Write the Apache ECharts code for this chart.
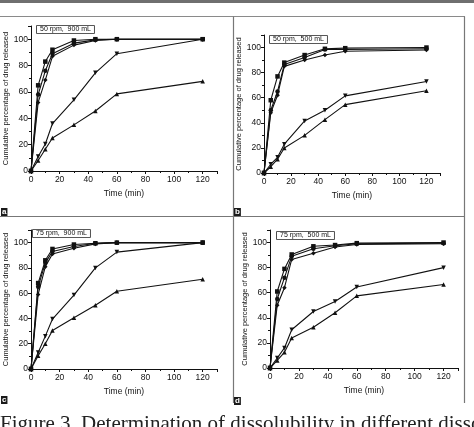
<!DOCTYPE html>
<html>
<head>
<meta charset="utf-8">
<script src="https://cdn.jsdelivr.net/npm/echarts@6/dist/echarts.min.js"></script>
<style>
  html, body { margin: 0; padding: 0; background: #fff; }
  #chart { width: 474px; height: 427px; }
</style>
</head>
<body>
<div id="chart"></div>
<script>
// sampling times (min)
const times = [0, 5, 10, 15, 30, 45, 60, 120]
const xTicks = [0, 20, 40, 60, 80, 100, 120]
const yTicks = [0, 20, 40, 60, 80, 100]

// panel a: 50 rpm, 900 mL
const a1 = [0, 65, 83, 92, 99, 100, 100, 100]
const a2 = [0, 58, 76, 89, 97, 99.5, 100, 100]
const a3 = [0, 52, 69, 87, 95.5, 99, 100, 100]
const a4 = [0, 11, 20.5, 36, 54, 74.5, 89, 100]
const a5 = [0, 8, 16.5, 25, 35, 45.5, 58.5, 68]

// panel b: 50 rpm, 500 mL
const b1 = [0, 58, 77, 88, 94, 99, 99.5, 100]
const b2 = [0, 50, 65, 86.5, 92, 98.5, 98.5, 99]
const b3 = [0, 48, 62, 85, 90, 94, 97, 98]
const b4 = [0, 7, 12.5, 23, 41.5, 50, 61.5, 73]
const b5 = [0, 5, 11, 20, 30, 42.5, 54.5, 65.5]

// panel c: 75 rpm, 900 mL
const c1 = [0, 68, 86, 95, 98.5, 99.5, 100, 100]
const c2 = [0, 65, 84, 93, 97, 99.5, 100, 100]
const c3 = [0, 59, 81, 91, 95.5, 99, 100, 100]
const c4 = [0, 13, 26, 39.5, 58.5, 80, 92.5, 100]
const c5 = [0, 10.5, 20, 30.5, 40.5, 50.5, 61.5, 71]

// panel d: 75 rpm, 500 mL
const d1 = [0, 61, 79, 90.5, 97, 98, 99.5, 100]
const d2 = [0, 55, 72, 89, 95, 97.5, 99, 99.5]
const d3 = [0, 50, 64, 86.5, 91.5, 96.5, 98.5, 99]
const d4 = [0, 8, 16, 30.5, 45, 53, 64.5, 80]
const d5 = [0, 6, 12.5, 24, 32.5, 44, 57.5, 66.5]

const panelTitles = ['50 rpm,  900 mL', '50 rpm,  500 mL', '75 rpm,  900 mL', '75 rpm,  500 mL']
const panelLetters = ['a', 'b', 'c', 'd']
const panelSeries = [
  [a1, a2, a3, a4, a5],
  [b1, b2, b3, b4, b5],
  [c1, c2, c3, c4, c5],
  [d1, d2, d3, d4, d5]
]

const grids = [
  { left: 31, top: 26, width: 186, height: 145 },
  { left: 264, top: 35, width: 176, height: 138 },
  { left: 31, top: 230, width: 186, height: 139 },
  { left: 270, top: 230, width: 188, height: 138 }
]

const symbols = ['rect', 'circle', 'diamond', 'triangle', 'triangle']
const rotations = [0, 0, 0, 180, 0]
const fontFamily = '"Liberation Sans", Arial, sans-serif'

const xAxes = grids.map((g, i) => ({
  type: 'value',
  gridIndex: i,
  min: 0,
  max: 130,
  interval: 20,
  name: 'Time (min)',
  nameLocation: 'middle',
  nameGap: 18,
  nameTextStyle: { color: '#111', fontSize: 8.5, fontFamily },
  axisLine: { lineStyle: { color: '#111', width: 1 } },
  axisTick: { show: true, length: 3, lineStyle: { color: '#111' } },
  minorTick: { show: true, splitNumber: 2, length: 2, lineStyle: { color: '#111' } },
  splitLine: { show: false },
  axisLabel: {
    color: '#111', fontSize: 8.5, fontFamily, margin: 4,
    formatter: v => (xTicks.includes(v) ? String(v) : '')
  }
}))

const yAxes = grids.map((g, i) => ({
  type: 'value',
  gridIndex: i,
  min: 0,
  max: 110,
  interval: 20,
  name: 'Cumulative percentage of drug released',
  nameLocation: 'middle',
  nameRotate: 90,
  nameGap: 19,
  nameTextStyle: { color: '#111', fontSize: 7.5, fontFamily },
  axisLine: { show: true, lineStyle: { color: '#111', width: 1 } },
  axisTick: { show: true, length: 3, lineStyle: { color: '#111' } },
  minorTick: { show: true, splitNumber: 2, length: 2, lineStyle: { color: '#111' } },
  splitLine: { show: false },
  axisLabel: {
    color: '#111', fontSize: 8.5, fontFamily, margin: 3,
    formatter: v => (yTicks.includes(v) ? String(v) : '')
  }
}))

const series = []
panelSeries.forEach((list, p) => {
  list.forEach((vals, k) => {
    series.push({
      type: 'line',
      xAxisIndex: p,
      yAxisIndex: p,
      data: times.map((t, j) => [t, vals[j]]),
      symbol: symbols[k],
      symbolRotate: rotations[k],
      symbolSize: 4.5,
      showAllSymbol: true,
      lineStyle: { color: '#111', width: 1.1 },
      itemStyle: { color: '#111' },
      animation: false
    })
  })
})

const boxPos = [[37, 26], [270, 36], [33, 230], [277, 232]]
const letterPos = [[1, 208], [234, 208], [1, 396], [234, 397]]

const graphic = [
  { type: 'rect', shape: { x: 0, y: 0, width: 474, height: 3 }, style: { fill: '#6f6f6f' } },
  { type: 'line', shape: { x1: 0, y1: 16.5, x2: 465, y2: 16.5 }, style: { stroke: '#8a8a8a', lineWidth: 1 } },
  { type: 'line', shape: { x1: 0, y1: 216.5, x2: 465, y2: 216.5 }, style: { stroke: '#777', lineWidth: 1.2 } },
  { type: 'line', shape: { x1: 233.5, y1: 16.5, x2: 233.5, y2: 403 }, style: { stroke: '#777', lineWidth: 1.2 } },
  { type: 'line', shape: { x1: 464.5, y1: 16.5, x2: 464.5, y2: 403 }, style: { stroke: '#777', lineWidth: 1.2 } }
]

panelTitles.forEach((t, i) => {
  graphic.push({
    type: 'text',
    x: boxPos[i][0],
    y: boxPos[i][1],
    style: {
      text: t,
      font: '7px ' + fontFamily,
      fill: '#111',
      backgroundColor: '#fff',
      borderColor: '#222',
      borderWidth: 0.8,
      padding: [0, 3, 0, 3]
    },
    z: 10
  })
})

panelLetters.forEach((t, i) => {
  graphic.push({
    type: 'text',
    x: letterPos[i][0],
    y: letterPos[i][1],
    style: {
      text: t,
      font: 'bold 8px ' + fontFamily,
      fill: '#fff',
      backgroundColor: '#1a1a1a',
      padding: [0, 1, 0, 1]
    },
    z: 10
  })
})

graphic.push({
  type: 'text',
  x: 0,
  y: 414,
  style: {
    text: 'Figure 3. Determination of dissolubility in different dissolving fluids',
    font: '21px "Liberation Serif", "DejaVu Serif", serif',
    fill: '#222'
  }
})

const chart = echarts.init(document.getElementById('chart'))
chart.setOption({
  animation: false,
  backgroundColor: '#fff',
  grid: grids,
  xAxis: xAxes,
  yAxis: yAxes,
  series,
  graphic
})
</script>
</body>
</html>
